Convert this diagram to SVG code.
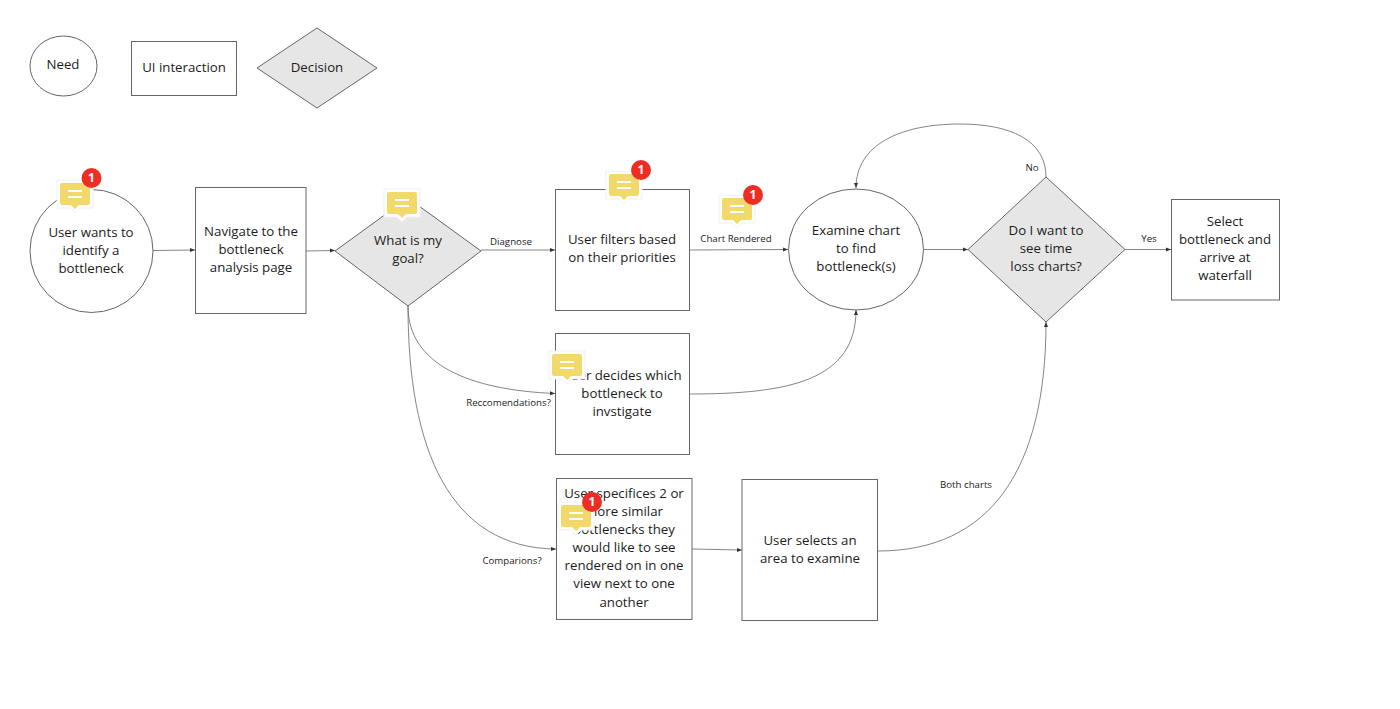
<svg xmlns="http://www.w3.org/2000/svg" width="1400" height="709" viewBox="0 0 1400 709">
<style>
text{font-family:"Open Sans","Noto Sans",sans-serif;fill:#1c1c1c}
.t{font-size:13.25px;text-anchor:middle}
.l{font-size:9.700px;text-anchor:middle}
.n{fill:#fff;stroke:#666;stroke-width:1}
.d{fill:#e6e6e6;stroke:#666;stroke-width:1}
.c{fill:none;stroke:#666;stroke-width:.8;marker-end:url(#a)}
.b{font-size:12px;font-weight:700;fill:#fff;text-anchor:middle}
</style>
<defs>
<marker id="a" markerUnits="userSpaceOnUse" markerWidth="6" markerHeight="6" refX="5" refY="2.5" orient="auto"><path d="M0 0.5L5 2.5L0 4.5z" fill="#333"/></marker>
<g id="note">
<path d="M-3-3H33V25H20L15 30L10 25H-3z" fill="#fff" stroke="#f0f0f0" stroke-width="1" stroke-linejoin="round"/>
<path d="M2 0H28Q30 0 30 2V20Q30 22 28 22H19L15 26L11 22H2Q0 22 0 20V2Q0 0 2 0z" fill="#f2d96b"/>
<path d="M8 8H22M8 14H22" stroke="#fff" stroke-width="2.2"/>
</g>
<g id="badge"><circle r="10" fill="#ee2e24"/><text class="b" y="4.300">1</text></g>
</defs>

<g id="legend-need"><ellipse class="n" cx="63.500" cy="66" rx="33.500" ry="30"/><text class="t" x="63" y="69">Need</text></g>
<g id="legend-ui"><rect class="n" x="131.500" y="41.500" width="105" height="54"/><text class="t" x="184" y="72">UI interaction</text></g>
<g id="legend-decision"><path class="d" d="M317 28L377 68L317 108L257 68z"/><text class="t" x="317" y="72">Decision</text></g>

<g id="connectors">
<path class="c" d="M153 250.500L195 250"/>
<path class="c" d="M306 251L335 250.500"/>
<path class="c" d="M481 250H555"/>
<path class="c" d="M690 250L788 249.500"/>
<path class="c" d="M923 249.500H968"/>
<path class="c" d="M1125 249.500H1171"/>
<path class="c" d="M408 306C408 365 470 390 555 393.500"/>
<path class="c" d="M408 306C408 450 450 548 556 549"/>
<path class="c" d="M690 394C790 394 856 380 856 310"/>
<path class="c" d="M692 549L742 550"/>
<path class="c" d="M878 551C990 551 1046 470 1046 322"/>
<path class="c" d="M1046 177C1046 140 1010 124 960 124C900 124 856 145 856 188"/>
<text class="l" x="511" y="245">Diagnose</text>
<text class="l" x="736" y="242">Chart Rendered</text>
<text class="l" x="508.500" y="406">Reccomendations?</text>
<text class="l" x="512" y="564">Comparions?</text>
<text class="l" x="966" y="488">Both charts</text>
<text class="l" x="1032" y="171">No</text>
<text class="l" x="1149" y="242">Yes</text>
</g>

<g id="n-identify"><circle class="n" cx="91.500" cy="251" r="61.500"/><text class="t"><tspan x="91" y="237">User wants to</tspan><tspan x="91" y="255">identify a</tspan><tspan x="91" y="273">bottleneck</tspan></text></g>
<g id="n-navigate"><rect class="n" x="195.500" y="187.500" width="110.500" height="126"/><text class="t"><tspan x="251" y="236">Navigate to the</tspan><tspan x="251" y="254">bottleneck</tspan><tspan x="251" y="272">analysis page</tspan></text></g>
<g id="n-goal"><path class="d" d="M408 198L481 251L408 306L335 251z"/><text class="t"><tspan x="408" y="245">What is my</tspan><tspan x="408" y="263">goal?</tspan></text></g>
<g id="n-filter"><rect class="n" x="555.500" y="189.500" width="134" height="121"/><text class="t"><tspan x="622" y="244">User filters based</tspan><tspan x="622" y="262">on their priorities</tspan></text></g>
<g id="n-decide"><rect class="n" x="555.500" y="333.500" width="134" height="121"/><text class="t"><tspan x="622" y="380">User decides which</tspan><tspan x="622" y="398">bottleneck to</tspan><tspan x="622" y="416">invstigate</tspan></text></g>
<g id="n-specify"><rect class="n" x="556.500" y="478.500" width="135.500" height="141"/><text class="t"><tspan x="624" y="498">User specifices 2 or</tspan><tspan x="624" y="516">more similar</tspan><tspan x="624" y="534">bottlenecks they</tspan><tspan x="624" y="552">would like to see</tspan><tspan x="624" y="570">rendered on in one</tspan><tspan x="624" y="588">view next to one</tspan><tspan x="624" y="606.500">another</tspan></text></g>
<g id="n-area"><rect class="n" x="742" y="479.500" width="135.500" height="141"/><text class="t"><tspan x="810" y="545">User selects an</tspan><tspan x="810" y="563">area to examine</tspan></text></g>
<g id="n-examine"><ellipse class="n" cx="856" cy="249.500" rx="67.500" ry="60.500"/><text class="t"><tspan x="856" y="235">Examine chart</tspan><tspan x="856" y="253">to find</tspan><tspan x="856" y="271">bottleneck(s)</tspan></text></g>
<g id="n-timeloss"><path class="d" d="M1046 177L1125 249.500L1046 322L968 249.500z"/><text class="t"><tspan x="1046" y="235">Do I want to</tspan><tspan x="1046" y="253">see time</tspan><tspan x="1046" y="271">loss charts?</tspan></text></g>
<g id="n-select"><rect class="n" x="1171.500" y="199.500" width="108" height="100.500"/><text class="t"><tspan x="1225" y="226">Select</tspan><tspan x="1225" y="244">bottleneck and</tspan><tspan x="1225" y="262">arrive at</tspan><tspan x="1225" y="280">waterfall</tspan></text></g>

<g id="comments">
<use href="#note" x="60" y="183"/><use href="#badge" x="91.500" y="178"/>
<use href="#note" x="387" y="192"/>
<use href="#note" x="609" y="174"/><use href="#badge" x="641" y="170"/>
<use href="#note" x="722" y="198"/><use href="#badge" x="753" y="195"/>
<use href="#note" x="552" y="354"/>
<use href="#note" x="561" y="505"/><use href="#badge" x="592" y="502"/>
</g>
</svg>
